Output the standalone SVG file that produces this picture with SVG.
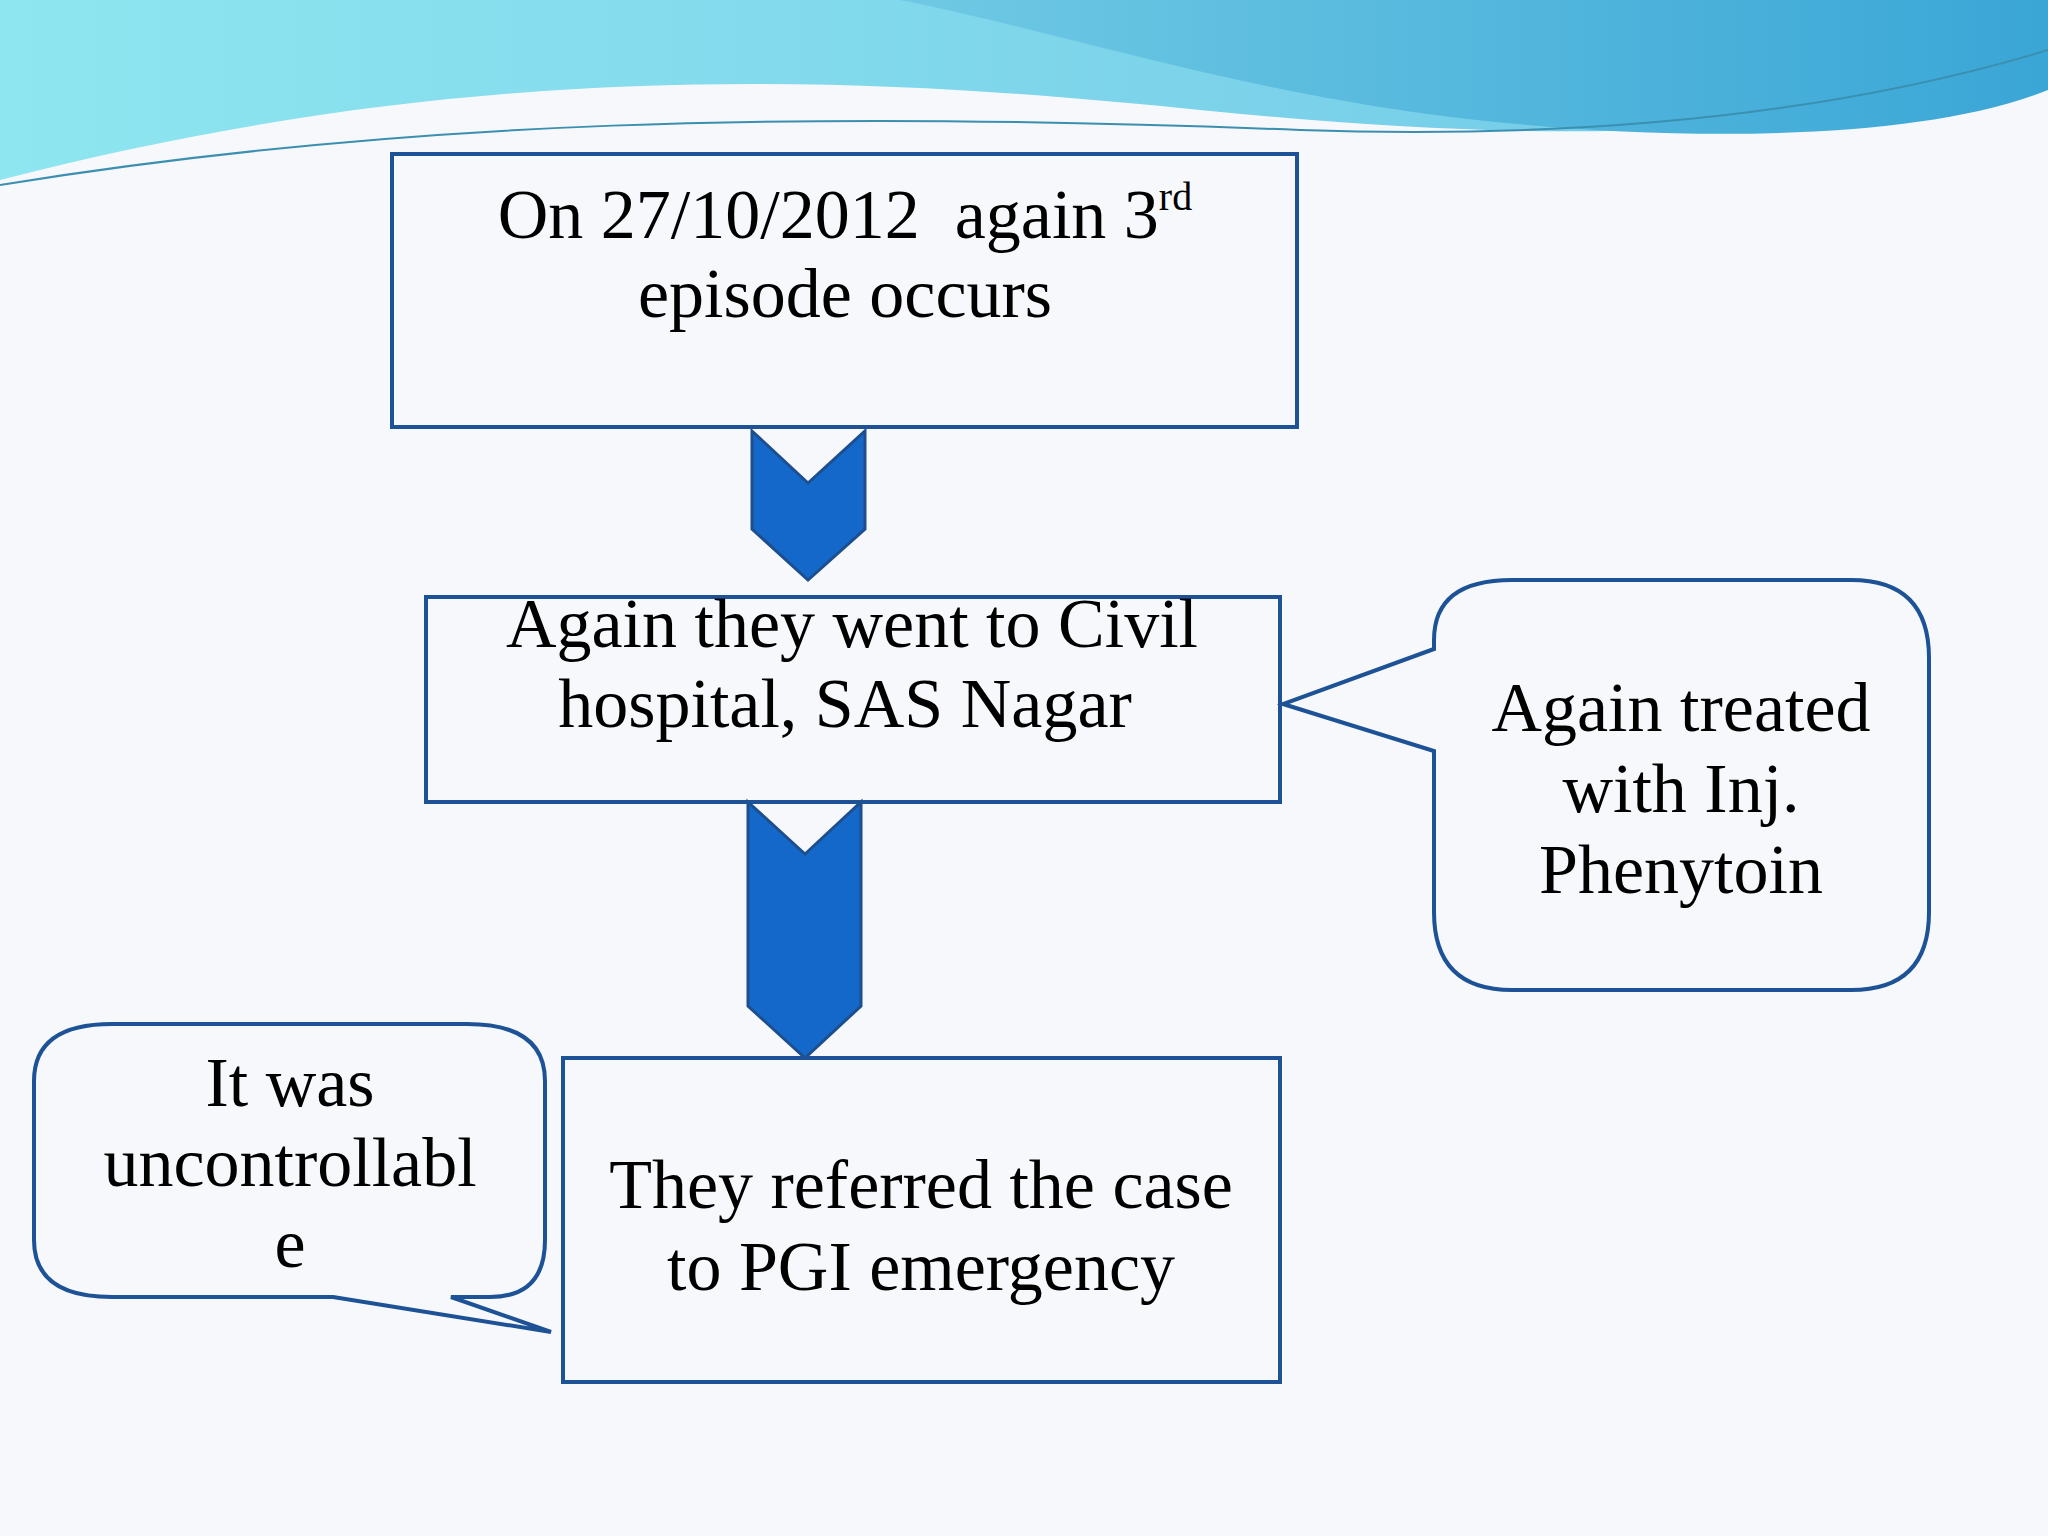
<svg xmlns="http://www.w3.org/2000/svg" width="2048" height="1536" viewBox="0 0 2048 1536">
<defs>
<linearGradient id="w1" x1="0" y1="0" x2="1" y2="0"><stop offset="0" stop-color="#8ee6f0"/><stop offset="1" stop-color="#6fc6e6"/></linearGradient>
<linearGradient id="w2" x1="0" y1="0" x2="1" y2="0"><stop offset="0" stop-color="#6fc9e4"/><stop offset="1" stop-color="#3aa6d6"/></linearGradient>
</defs>
<style>
.box{fill:none;stroke:#1d5396;stroke-width:4}
.cal{fill:#f7f8fb;stroke:#1d5396;stroke-width:4}
.arr{fill:#1468c9;stroke:#1d4f8f;stroke-width:3}
text{font-family:"Liberation Serif",serif;font-size:70px;fill:#000;text-anchor:middle}
</style>
<rect width="2048" height="1536" fill="#f7f8fb"/>
<g id="background">
<path d="M0 0 H2048 V60 C1800 150 1500 140 1200 110 C900 80 500 50 0 180 Z" fill="url(#w1)"/>
<path d="M900 0 H2048 V90 C1900 150 1600 140 1400 110 C1200 80 1050 30 900 0 Z" fill="url(#w2)"/>
<path d="M0 185 C400 120 800 110 1300 130 C1600 140 1850 110 2048 50" fill="none" stroke="#3b8fb0" stroke-width="2"/>
</g>
<g id="connectors">
<polygon class="arr" points="752,431 808,483 865,431 865,529 808,580 752,529"/>
<polygon class="arr" points="748,802 805,854 861,802 861,1006 805,1058 748,1006"/>
</g>
<g id="n1">
<rect class="box" x="392" y="154" width="905" height="273"/>
<text x="845" y="238" xml:space="preserve">On 27/10/2012  again 3<tspan font-size="40" dy="-28">rd</tspan></text>
<text x="845" y="317">episode occurs</text>
</g>
<g id="n2">
<rect class="box" x="426" y="597" width="854" height="205"/>
<text x="852" y="647">Again they went to Civil</text>
<text x="845" y="727">hospital, SAS Nagar</text>
</g>
<g id="n3">
<rect class="box" x="563" y="1058" width="717" height="324"/>
<text x="921" y="1208">They referred the case</text>
<text x="921" y="1290">to PGI emergency</text>
</g>
<g id="c1">
<path class="cal" d="M1434 649 L1434 640 Q1434 580 1512 580 L1851 580 Q1929 580 1929 658 L1929 912 Q1929 990 1851 990 L1512 990 Q1434 990 1434 912 L1434 751 L1283 704 Z"/>
<text x="1681" y="731">Again treated</text>
<text x="1681" y="812">with Inj.</text>
<text x="1681" y="893">Phenytoin</text>
</g>
<g id="c2">
<path class="cal" d="M333 1297 L551 1332 L451 1297 L490 1297 Q545 1297 545 1240 L545 1081 Q545 1024 467 1024 L112 1024 Q34 1024 34 1081 L34 1240 Q34 1297 112 1297 Z"/>
<text x="290" y="1106">It was</text>
<text x="290" y="1186">uncontrollabl</text>
<text x="290" y="1267">e</text>
</g>
</svg>
